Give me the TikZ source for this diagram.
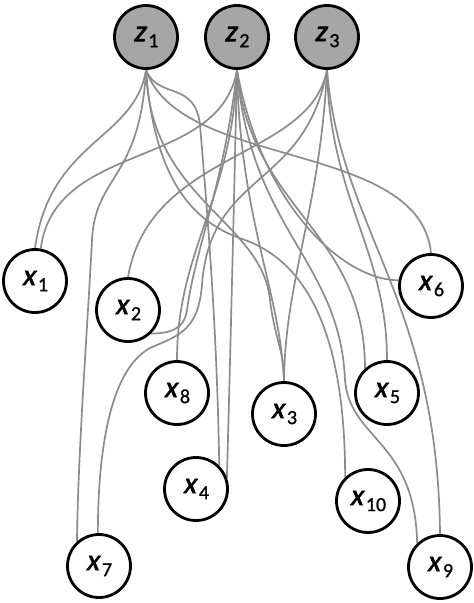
\documentclass[tikz,border=0pt]{standalone}
\usepackage{fontspec}
\setmainfont{Carlito}
\newfontfamily\lblfont{Carlito}[FakeSlant=0.18,FakeBold=1.6]
\newfontfamily\lblbold{Carlito}[FakeSlant=0.18,FakeBold=2.4]
\newfontfamily\subfont{Carlito}[FakeBold=1.0]
\usetikzlibrary{backgrounds}
\definecolor{latgray}{RGB}{166,166,166}
\definecolor{edgegray}{RGB}{140,140,140}
\newcommand{\nodelbl}[2]{{\lblfont\fontsize{30}{30}\selectfont #1}\kern3pt\raisebox{-6pt}{\subfont\fontsize{20}{20}\selectfont #2}}
\newcommand{\latlbl}[2]{{\lblbold\fontsize{30}{30}\selectfont #1}\kern3pt\raisebox{-6pt}{\subfont\fontsize{20}{20}\selectfont #2}}
\begin{document}
\begin{tikzpicture}[x=1pt,y=-1pt,
  var/.style={circle,draw=black,line width=2.8pt,minimum size=63pt,inner sep=0pt,fill=white},
  lat/.style={var,fill=latgray},
  edge/.style={draw=edgegray,line width=1.7pt}]
\useasboundingbox (0,0) rectangle (474,603);
\node[lat] (z1) at (146,37) {\latlbl{z}{1}};
\node[lat] (z2) at (237,37) {\latlbl{z}{2}};
\node[lat] (z3) at (327,37) {\latlbl{z}{3}};
\node[var] (x1) at (35,281) {\nodelbl{x}{1}};
\node[var] (x2) at (128,310) {\nodelbl{x}{2}};
\node[var] (x8) at (177,393) {\nodelbl{x}{8}};
\node[var] (x3) at (284,414) {\nodelbl{x}{3}};
\node[var] (x5) at (387,393) {\nodelbl{x}{5}};
\node[var] (x6) at (431,286) {\nodelbl{x}{6}};
\node[var] (x4) at (196,489) {\nodelbl{x}{4}};
\node[var] (x10) at (368,501) {\nodelbl{x}{10}};
\node[var] (x7) at (99,566) {\nodelbl{x}{7}};
\node[var] (x9) at (440,567) {\nodelbl{x}{9}};
\begin{pgfonlayer}{background}
% z1
\draw[edge] (z1.south) .. controls (135,140) and (50,140) .. (x1.north);
\draw[edge] (z1.south) .. controls (140,180) and (95,175) .. (92,240) .. controls (88,320) and (78,450) .. (x7.132);
\draw[edge] (z1.south) .. controls (180,170) and (420,140) .. (x6.north);
\draw[edge] (z1.south) .. controls (158,100) and (195,80) .. (200,125) .. controls (208,220) and (217,330) .. (x4.45);
\draw[edge] (z1.south) .. controls (155,190) and (200,225) .. (245,240) .. controls (305,262) and (345,330) .. (x10.134);
\draw[edge] (z1.south) .. controls (150,200) and (262,220) .. (270,300) .. controls (275,340) and (284,350) .. (x3.north);
% z2
\draw[edge] (z2.south) .. controls (220,170) and (55,140) .. (x1.80);
\draw[edge] (z2.south) .. controls (225,180) and (195,250) .. (187,310) .. controls (184,330) and (170,333) .. (x2.-46);
\draw[edge] (z2.south) .. controls (232,200) and (177,250) .. (x8.north);
\draw[edge] (z2.south) .. controls (234,200) and (231,330) .. (x4.20);
\draw[edge] (z2.south) .. controls (240,220) and (280,290) .. (x3.north);
\draw[edge] (z2.south) .. controls (250,210) and (365,230) .. (x5.132);
\draw[edge] (z2.south) .. controls (250,230) and (340,260) .. (345,380) .. controls (350,440) and (415,440) .. (x9.134);
\draw[edge] (z2.south) .. controls (260,200) and (340,280) .. (x6.170);
% z3
\draw[edge] (z3.south) .. controls (310,160) and (150,150) .. (x2.north);
\draw[edge] (z3.south) .. controls (305,190) and (210,170) .. (202,285) .. controls (198,330) and (180,335) .. (150,348) .. controls (110,370) and (98,450) .. (x7.92);
\draw[edge] (z3.south) .. controls (320,210) and (285,280) .. (x3.north);
\draw[edge] (z3.south) .. controls (330,200) and (387,250) .. (x5.north);
\draw[edge] (z3.south) .. controls (340,230) and (438,300) .. (x9.north);
\end{pgfonlayer}
\end{tikzpicture}
\end{document}
